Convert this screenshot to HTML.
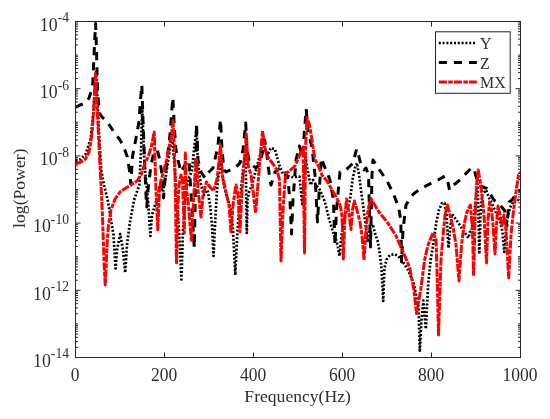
<!DOCTYPE html><html><head><meta charset="utf-8"><style>html,body{margin:0;padding:0;background:#fff;}svg{display:block;}text{font-family:"Liberation Serif","Times New Roman",serif;fill:#2e2e2e;}</style></head><body>
<svg width="550" height="419" viewBox="0 0 550 419">
<rect x="0" y="0" width="550" height="419" fill="#fff"/>
<defs><clipPath id="c"><rect x="75.5" y="21.5" width="445.0" height="336.0"/></clipPath></defs>
<g clip-path="url(#c)" fill="none" stroke-linejoin="round">
<polyline points="75.5,160.5 80.0,159.5 85.5,154.5 88.0,147.0 90.7,138.7 93.4,112.5 95.0,85.0 96.0,72.0 97.5,100.0 98.6,125.6 101.2,170.0 104.0,185.0 107.9,201.0 111.0,220.0 113.4,234.0 115.6,268.5 117.0,250.0 120.2,234.0 123.0,250.0 125.2,272.7 127.0,245.0 129.8,223.0 134.0,200.0 139.4,185.0 141.0,150.0 142.2,108.0 143.5,140.0 144.5,165.0 146.0,180.0 148.0,200.0 150.4,236.0 152.0,215.0 155.0,205.0 157.3,198.5 160.0,185.0 163.0,192.0 166.0,175.0 169.0,155.0 172.0,135.0 174.0,160.0 176.0,185.0 179.0,230.0 181.4,279.5 183.0,230.0 186.0,190.0 189.0,178.0 192.0,170.0 194.0,150.0 196.5,128.0 198.0,165.0 201.0,185.0 204.0,195.0 207.6,190.0 210.0,205.0 212.0,225.0 213.5,256.0 215.0,225.0 217.0,190.0 219.0,170.0 220.5,150.0 222.0,175.0 225.0,190.0 228.0,200.0 231.0,210.0 233.0,230.0 235.3,275.0 237.5,230.0 240.0,200.0 242.0,180.0 244.0,160.0 245.5,150.0 246.3,200.0 246.8,233.0 247.5,200.0 249.0,192.0 252.0,185.0 256.0,170.0 260.0,155.0 263.0,140.0 265.0,150.0 267.5,155.0 270.8,148.0 274.8,149.0 279.6,166.0 283.0,174.0 287.0,176.0 291.3,177.0 296.0,177.0 299.5,176.6 302.3,204.0 304.0,180.0 306.0,160.0 308.0,172.0 310.5,185.0 313.0,180.0 316.0,184.8 320.0,190.0 324.6,201.0 329.0,218.6 333.0,232.0 335.6,238.0 337.5,245.0 339.5,256.0 341.5,235.0 344.0,220.0 346.0,212.0 350.0,200.0 352.5,180.0 355.0,168.0 357.0,163.0 359.0,175.0 361.0,190.0 363.0,205.0 365.0,220.0 367.6,242.0 369.0,230.0 372.7,224.0 375.5,235.0 378.0,242.0 380.0,255.0 381.5,268.0 383.2,301.0 384.5,268.0 386.5,259.7 390.0,255.0 394.7,254.2 398.0,256.0 401.5,259.7 408.4,270.6 413.9,284.0 418.6,307.7 419.8,350.7 421.5,320.0 423.4,300.6 425.8,329.0 428.2,283.9 430.6,260.0 433.2,245.0 436.4,221.8 439.0,210.0 442.0,203.0 444.5,203.0 446.5,215.0 448.5,248.0 450.5,225.0 452.0,214.0 457.7,222.0 463.0,230.0 468.4,238.0 470.0,232.0 471.6,231.5 474.0,215.0 476.0,198.5 477.5,184.0 478.5,215.0 479.3,254.0 480.5,215.0 482.0,195.0 486.0,190.0 490.0,200.0 493.4,206.8 497.0,215.0 500.0,220.0 502.5,232.0 504.3,252.0 506.0,230.0 508.0,215.0 510.0,208.0 512.0,204.0 515.3,199.6 518.0,200.0 520.5,200.0" stroke="#000" stroke-width="2.7" stroke-dasharray="2.0 1.8"/>
<polyline points="75.5,107.5 80.0,105.0 85.5,103.0 89.0,98.0 91.0,92.0 92.8,83.0 94.0,55.0 95.6,23.5 96.5,50.0 97.5,90.0 99.4,113.0 102.0,117.0 106.5,121.0 110.0,126.0 114.3,132.5 119.0,138.5 122.9,144.7 127.2,156.5 129.3,169.4 130.8,184.0 132.5,156.5 135.8,139.3 138.9,122.0 140.5,100.0 141.8,85.0 143.0,120.0 144.5,160.0 146.0,195.0 146.8,207.0 148.0,190.0 151.0,165.0 154.0,152.0 157.3,150.0 160.2,161.7 162.0,175.0 163.5,198.0 165.0,180.0 167.0,160.0 170.0,135.0 172.8,97.6 174.5,130.0 176.0,150.0 178.0,160.0 181.0,172.0 185.0,165.0 189.0,160.0 192.6,220.0 194.3,248.0 195.2,200.0 196.5,123.6 198.0,160.0 201.0,172.0 205.0,178.0 209.0,172.0 213.0,168.0 216.0,155.0 218.0,145.0 220.5,119.5 222.0,150.0 224.0,170.0 226.0,172.0 230.0,170.0 235.0,168.0 240.0,163.0 243.0,150.0 245.7,123.0 247.0,150.0 249.5,163.0 252.0,165.0 256.0,168.0 259.0,165.0 262.0,155.0 264.5,140.0 266.5,150.0 268.0,165.0 269.5,176.0 271.0,185.0 275.0,172.0 280.0,168.0 285.0,170.0 288.0,180.0 290.0,201.0 291.5,234.0 293.0,200.0 296.0,160.0 299.4,146.0 302.7,157.0 304.5,130.0 306.2,109.0 308.0,130.0 312.0,148.0 315.0,175.0 317.5,222.0 319.3,190.0 321.3,158.0 324.6,167.0 327.0,172.0 330.0,180.0 333.4,200.0 335.0,245.0 336.5,210.0 340.0,172.0 343.0,172.0 348.0,168.0 353.0,163.0 356.6,149.0 359.0,157.0 361.0,165.0 364.0,170.0 366.0,168.0 368.5,175.0 370.5,247.0 372.0,175.0 373.0,160.0 376.4,165.4 387.0,180.8 393.5,194.0 398.5,207.0 400.8,220.0 401.6,262.0 403.0,230.0 406.0,205.0 410.0,198.0 414.0,193.5 418.4,190.5 424.7,186.7 431.7,183.0 438.0,180.0 445.0,176.0 447.5,180.0 449.5,190.0 451.5,186.0 455.0,184.0 461.6,178.4 466.0,173.4 471.8,167.6 474.0,169.0 477.0,180.0 480.4,186.0 487.0,188.6 493.6,199.6 500.0,205.0 504.6,210.5 507.0,226.0 509.0,202.0 512.0,200.0 516.6,193.0 520.5,190.0" stroke="#000" stroke-width="3.0" stroke-dasharray="8.1 7.0"/>
<polyline points="75.5,163.5 80.0,162.5 85.5,159.0 89.0,152.0 92.0,134.0 94.0,105.0 95.5,73.5 97.0,105.0 98.5,135.0 100.0,165.0 102.0,205.0 103.3,240.0 104.2,265.0 105.2,285.0 106.2,265.0 107.0,245.0 108.5,225.0 111.0,210.0 115.0,199.0 120.0,192.0 126.0,188.0 131.0,185.0 137.0,181.0 141.0,175.0 145.0,163.0 148.5,156.0 151.5,146.0 154.2,132.0 155.0,160.0 156.0,190.0 157.8,230.0 159.5,190.0 161.0,180.0 163.5,172.0 166.5,160.0 169.5,145.0 171.5,135.0 173.0,120.5 174.5,150.0 175.5,200.0 176.5,264.0 177.5,215.0 179.0,185.0 181.0,175.0 182.5,180.0 184.3,233.0 185.3,153.0 186.5,190.0 188.0,200.0 191.5,242.0 193.0,210.0 195.0,175.0 196.5,158.0 198.0,190.0 201.0,217.0 203.0,195.0 206.4,182.0 210.0,187.0 213.6,191.0 217.3,178.0 220.5,145.0 222.5,176.0 226.0,192.0 229.0,205.0 231.0,232.0 233.0,205.0 236.0,185.0 238.0,195.0 240.0,232.0 242.0,190.0 244.0,165.0 246.3,134.0 248.0,165.0 251.0,175.0 253.0,190.0 255.6,213.0 257.5,190.0 260.0,160.0 262.5,131.0 264.5,145.0 266.5,155.0 270.0,160.0 273.0,164.0 277.0,170.0 279.5,180.0 281.0,261.0 283.0,210.0 285.5,174.0 290.5,170.0 295.0,166.0 300.5,153.0 303.0,147.0 304.5,253.0 305.5,150.0 307.0,117.5 309.5,125.0 312.0,140.0 315.0,160.0 318.0,165.0 322.0,175.0 327.0,181.0 331.0,188.0 335.6,196.0 340.0,204.7 342.0,215.0 343.3,259.0 345.0,215.0 346.6,199.0 348.5,210.0 351.0,229.6 352.5,210.0 354.3,201.0 357.0,210.0 360.0,222.0 362.0,235.0 364.0,260.0 366.0,230.0 368.0,210.0 370.9,198.4 378.6,211.5 387.4,222.5 396.0,235.7 403.6,253.0 409.8,268.0 413.9,290.0 416.5,313.5 420.7,290.0 424.6,260.0 428.0,245.0 433.2,232.6 436.0,240.0 437.3,280.0 438.5,335.0 440.0,290.0 441.0,260.0 443.0,236.0 445.0,215.0 447.5,205.0 450.0,215.0 453.0,227.0 456.0,245.0 459.0,281.0 461.5,245.0 464.0,225.0 467.0,212.0 470.5,205.0 472.5,230.0 473.6,276.0 475.0,220.0 476.5,185.0 478.2,170.0 480.0,180.0 482.0,195.0 484.0,215.0 486.5,263.0 488.0,220.0 489.5,202.0 491.5,210.0 493.0,225.0 495.0,254.0 496.5,225.0 498.0,206.0 500.0,215.0 502.0,225.0 504.0,215.0 506.0,230.0 508.7,278.0 511.0,235.0 513.0,215.0 515.0,200.0 516.3,190.0 518.5,175.0 520.5,172.0" stroke="#f00" stroke-width="3.0" stroke-dasharray="8.1 1.3 4.6 1.1"/>
</g>
<path d="M75.50 357.50V352.50M75.50 21.50V26.50M164.50 357.50V352.50M164.50 21.50V26.50M253.50 357.50V352.50M253.50 21.50V26.50M342.50 357.50V352.50M342.50 21.50V26.50M431.50 357.50V352.50M431.50 21.50V26.50M520.50 357.50V352.50M520.50 21.50V26.50M75.50 357.50H80.50M520.50 357.50H515.50M75.50 347.39H78.00M520.50 347.39H518.00M75.50 341.47H78.00M520.50 341.47H518.00M75.50 337.27H78.00M520.50 337.27H518.00M75.50 334.01H78.00M520.50 334.01H518.00M75.50 331.35H78.00M520.50 331.35H518.00M75.50 329.10H78.00M520.50 329.10H518.00M75.50 327.16H78.00M520.50 327.16H518.00M75.50 325.44H78.00M520.50 325.44H518.00M75.50 323.90H78.00M520.50 323.90H518.00M75.50 313.79H78.00M520.50 313.79H518.00M75.50 307.87H78.00M520.50 307.87H518.00M75.50 303.67H78.00M520.50 303.67H518.00M75.50 300.41H78.00M520.50 300.41H518.00M75.50 297.75H78.00M520.50 297.75H518.00M75.50 295.50H78.00M520.50 295.50H518.00M75.50 293.56H78.00M520.50 293.56H518.00M75.50 291.84H78.00M520.50 291.84H518.00M75.50 290.30H80.50M520.50 290.30H515.50M75.50 280.19H78.00M520.50 280.19H518.00M75.50 274.27H78.00M520.50 274.27H518.00M75.50 270.07H78.00M520.50 270.07H518.00M75.50 266.81H78.00M520.50 266.81H518.00M75.50 264.15H78.00M520.50 264.15H518.00M75.50 261.90H78.00M520.50 261.90H518.00M75.50 259.96H78.00M520.50 259.96H518.00M75.50 258.24H78.00M520.50 258.24H518.00M75.50 256.70H78.00M520.50 256.70H518.00M75.50 246.59H78.00M520.50 246.59H518.00M75.50 240.67H78.00M520.50 240.67H518.00M75.50 236.47H78.00M520.50 236.47H518.00M75.50 233.21H78.00M520.50 233.21H518.00M75.50 230.55H78.00M520.50 230.55H518.00M75.50 228.30H78.00M520.50 228.30H518.00M75.50 226.36H78.00M520.50 226.36H518.00M75.50 224.64H78.00M520.50 224.64H518.00M75.50 223.10H80.50M520.50 223.10H515.50M75.50 212.99H78.00M520.50 212.99H518.00M75.50 207.07H78.00M520.50 207.07H518.00M75.50 202.87H78.00M520.50 202.87H518.00M75.50 199.61H78.00M520.50 199.61H518.00M75.50 196.95H78.00M520.50 196.95H518.00M75.50 194.70H78.00M520.50 194.70H518.00M75.50 192.76H78.00M520.50 192.76H518.00M75.50 191.04H78.00M520.50 191.04H518.00M75.50 189.50H78.00M520.50 189.50H518.00M75.50 179.39H78.00M520.50 179.39H518.00M75.50 173.47H78.00M520.50 173.47H518.00M75.50 169.27H78.00M520.50 169.27H518.00M75.50 166.01H78.00M520.50 166.01H518.00M75.50 163.35H78.00M520.50 163.35H518.00M75.50 161.10H78.00M520.50 161.10H518.00M75.50 159.16H78.00M520.50 159.16H518.00M75.50 157.44H78.00M520.50 157.44H518.00M75.50 155.90H80.50M520.50 155.90H515.50M75.50 145.79H78.00M520.50 145.79H518.00M75.50 139.87H78.00M520.50 139.87H518.00M75.50 135.67H78.00M520.50 135.67H518.00M75.50 132.41H78.00M520.50 132.41H518.00M75.50 129.75H78.00M520.50 129.75H518.00M75.50 127.50H78.00M520.50 127.50H518.00M75.50 125.56H78.00M520.50 125.56H518.00M75.50 123.84H78.00M520.50 123.84H518.00M75.50 122.30H78.00M520.50 122.30H518.00M75.50 112.19H78.00M520.50 112.19H518.00M75.50 106.27H78.00M520.50 106.27H518.00M75.50 102.07H78.00M520.50 102.07H518.00M75.50 98.81H78.00M520.50 98.81H518.00M75.50 96.15H78.00M520.50 96.15H518.00M75.50 93.90H78.00M520.50 93.90H518.00M75.50 91.96H78.00M520.50 91.96H518.00M75.50 90.24H78.00M520.50 90.24H518.00M75.50 88.70H80.50M520.50 88.70H515.50M75.50 78.59H78.00M520.50 78.59H518.00M75.50 72.67H78.00M520.50 72.67H518.00M75.50 68.47H78.00M520.50 68.47H518.00M75.50 65.21H78.00M520.50 65.21H518.00M75.50 62.55H78.00M520.50 62.55H518.00M75.50 60.30H78.00M520.50 60.30H518.00M75.50 58.36H78.00M520.50 58.36H518.00M75.50 56.64H78.00M520.50 56.64H518.00M75.50 55.10H78.00M520.50 55.10H518.00M75.50 44.99H78.00M520.50 44.99H518.00M75.50 39.07H78.00M520.50 39.07H518.00M75.50 34.87H78.00M520.50 34.87H518.00M75.50 31.61H78.00M520.50 31.61H518.00M75.50 28.95H78.00M520.50 28.95H518.00M75.50 26.70H78.00M520.50 26.70H518.00M75.50 24.76H78.00M520.50 24.76H518.00M75.50 23.04H78.00M520.50 23.04H518.00M75.50 21.50H80.50M520.50 21.50H515.50" stroke="#262626" stroke-width="1" fill="none"/>
<rect x="75.5" y="21.5" width="445.0" height="336.0" fill="none" stroke="#262626" stroke-width="1"/>
<g transform="translate(0 30.80) scale(1 1.05)"><text x="69" y="0" text-anchor="end" font-size="17.8">10<tspan font-size="13.6" dy="-8.1">-4</tspan></text></g>
<g transform="translate(0 98.00) scale(1 1.05)"><text x="69" y="0" text-anchor="end" font-size="17.8">10<tspan font-size="13.6" dy="-8.1">-6</tspan></text></g>
<g transform="translate(0 165.20) scale(1 1.05)"><text x="69" y="0" text-anchor="end" font-size="17.8">10<tspan font-size="13.6" dy="-8.1">-8</tspan></text></g>
<g transform="translate(0 232.40) scale(1 1.05)"><text x="69" y="0" text-anchor="end" font-size="17.8">10<tspan font-size="13.6" dy="-8.1">-10</tspan></text></g>
<g transform="translate(0 299.60) scale(1 1.05)"><text x="69" y="0" text-anchor="end" font-size="17.8">10<tspan font-size="13.6" dy="-8.1">-12</tspan></text></g>
<g transform="translate(0 366.80) scale(1 1.05)"><text x="69" y="0" text-anchor="end" font-size="17.8">10<tspan font-size="13.6" dy="-8.1">-14</tspan></text></g>
<g transform="translate(0 380.5) scale(1 1.05)"><text x="75.1" y="0" text-anchor="middle" font-size="17.5">0</text></g>
<g transform="translate(0 380.5) scale(1 1.05)"><text x="164.1" y="0" text-anchor="middle" font-size="17.5">200</text></g>
<g transform="translate(0 380.5) scale(1 1.05)"><text x="253.1" y="0" text-anchor="middle" font-size="17.5">400</text></g>
<g transform="translate(0 380.5) scale(1 1.05)"><text x="342.1" y="0" text-anchor="middle" font-size="17.5">600</text></g>
<g transform="translate(0 380.5) scale(1 1.05)"><text x="431.1" y="0" text-anchor="middle" font-size="17.5">800</text></g>
<g transform="translate(0 380.5) scale(1 1.05)"><text x="520.1" y="0" text-anchor="middle" font-size="17.5">1000</text></g>
<text x="297.6" y="402" text-anchor="middle" font-size="17.6">Frequency(Hz)</text>
<text transform="translate(24.6 188.2) rotate(-90) scale(1.02 1)" x="0" y="0" text-anchor="middle" font-size="17.3">log(Power)</text>
<rect x="435.5" y="31.8" width="74.7" height="61.5" fill="#fff" stroke="#262626" stroke-width="1"/>
<line x1="438.8" y1="43" x2="476.8" y2="43" stroke="#000" stroke-width="2.6" stroke-dasharray="2.0 1.8"/>
<line x1="438.8" y1="62.5" x2="476.8" y2="62.5" stroke="#000" stroke-width="2.8" stroke-dasharray="8.1 7.0"/>
<line x1="438.8" y1="82" x2="476.8" y2="82" stroke="#f00" stroke-width="2.8" stroke-dasharray="8.1 1.3 4.6 1.1"/>
<text x="480" y="49.4" font-size="15.9">Y</text>
<text x="480" y="68.5" font-size="15.9">Z</text>
<text x="480" y="87.7" font-size="15.9">MX</text>
</svg></body></html>
